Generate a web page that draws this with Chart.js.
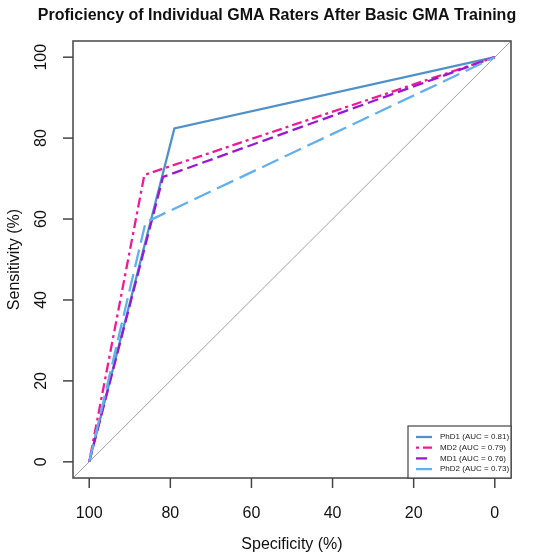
<!DOCTYPE html>
<html>
<head>
<meta charset="utf-8">
<script src="https://cdn.jsdelivr.net/npm/chart.js@4.4.1/dist/chart.umd.min.js"></script>
<style>
    html, body { margin: 0; padding: 0; background: #fff; }
</style>
</head>
<body>
<canvas id="roc" width="550" height="560"></canvas>
<script>
// values
const specTicks = [100, 80, 60, 40, 20, 0];
const sensTicks = [0, 20, 40, 60, 80, 100];
const raters = ['PhD1', 'MD2', 'MD1', 'PhD2'];
const aucValues = ['0.81', '0.79', '0.76', '0.73'];
const specificity = [
    [100, 79.0, 0],
    [100, 86.4, 0],
    [100, 81.8, 0],
    [100, 86.1, 0]
];
const sensitivity = [
    [0, 82.4, 100],
    [0, 70.9, 100],
    [0, 70.4, 100],
    [0, 59.2, 100]
];
const chanceSpec = [104, -4];
const chanceSens = [-4, 104];

const colors = ['#5091c9', '#ee1a96', '#9a17d6', '#62b0ee'];
const dashes = [[], [3, 4, 10, 4], [11, 5], [18, 7]];
const FONT = '"Liberation Sans", Arial, sans-serif';

const datasets = raters.map((name, i) => ({
    label: name + ' (AUC = ' + aucValues[i] + ')',
    data: specificity[i].map((s, j) => ({ x: s, y: sensitivity[i][j] })),
    borderColor: colors[i],
    borderDash: dashes[i],
    borderWidth: 2.3,
    showLine: true,
    pointRadius: 0,
    fill: false,
    order: 4 - i
}));
datasets.push({
    label: 'chance',
    data: chanceSpec.map((s, j) => ({ x: s, y: chanceSens[j] })),
    borderColor: '#a0a0a0',
    borderWidth: 1,
    showLine: true,
    pointRadius: 0,
    order: 10
});

// axes, box, titles and legend in R base-graphics style
const rAxes = {
    id: 'rAxes',
    afterDraw(chart) {
        const ctx = chart.ctx;
        const a = chart.chartArea;
        const xs = chart.scales.x, ys = chart.scales.y;
        ctx.save();
        ctx.strokeStyle = '#444';
        ctx.lineWidth = 1.5;
        ctx.strokeRect(a.left, a.top, a.right - a.left, a.bottom - a.top);

        ctx.fillStyle = '#111';
        ctx.font = '16px ' + FONT;
        // x ticks
        ctx.textAlign = 'center';
        ctx.textBaseline = 'middle';
        specTicks.forEach(v => {
            const px = xs.getPixelForValue(v);
            ctx.beginPath();
            ctx.moveTo(px, a.bottom);
            ctx.lineTo(px, a.bottom + 10);
            ctx.stroke();
            ctx.fillText(String(v), px, a.bottom + 36);
        });
        // y ticks (labels rotated like R)
        sensTicks.forEach(v => {
            const py = ys.getPixelForValue(v);
            ctx.beginPath();
            ctx.moveTo(a.left, py);
            ctx.lineTo(a.left - 10, py);
            ctx.stroke();
            ctx.save();
            ctx.translate(a.left - 31, py);
            ctx.rotate(-Math.PI / 2);
            ctx.fillText(String(v), 0, 0);
            ctx.restore();
        });
        // axis titles
        ctx.fillText('Specificity (%)', (a.left + a.right) / 2, a.bottom + 67);
        ctx.save();
        ctx.translate(15, (a.top + a.bottom) / 2);
        ctx.rotate(-Math.PI / 2);
        ctx.fillText('Sensitivity (%)', 0, 0);
        ctx.restore();
        // main title
        ctx.font = 'bold 16px ' + FONT;
        ctx.fillText('Proficiency of Individual GMA Raters After Basic GMA Training', 277, 16);

        // legend box at bottom right
        const lw = 103, lh = 52;
        const lx = a.right - lw, ly = a.bottom - lh;
        ctx.fillStyle = '#fff';
        ctx.fillRect(lx, ly, lw, lh);
        ctx.strokeStyle = '#444';
        ctx.lineWidth = 1.2;
        ctx.strokeRect(lx, ly, lw, lh);
        ctx.font = '8px ' + FONT;
        ctx.textAlign = 'left';
        chart.data.datasets.slice(0, raters.length).forEach((ds, i) => {
            const ry = ly + 11 + i * 10.7;
            ctx.strokeStyle = ds.borderColor;
            ctx.lineWidth = 2.3;
            ctx.setLineDash(ds.borderDash);
            ctx.beginPath();
            ctx.moveTo(lx + 8, ry);
            ctx.lineTo(lx + 24, ry);
            ctx.stroke();
            ctx.setLineDash([]);
            ctx.fillStyle = '#222';
            ctx.fillText(ds.label, lx + 32, ry);
        });
        ctx.restore();
    }
};

new Chart(document.getElementById('roc'), {
    type: 'scatter',
    data: { datasets },
    options: {
        responsive: false,
        animation: false,
        devicePixelRatio: 1,
        layout: { padding: { left: 73, right: 39, top: 41, bottom: 82 } },
        plugins: {
            legend: { display: false },
            tooltip: { enabled: false }
        },
        scales: {
            x: { type: 'linear', reverse: true, min: -4, max: 104, display: false },
            y: { type: 'linear', min: -4, max: 104, display: false }
        }
    },
    plugins: [rAxes]
});
</script>
</body>
</html>
